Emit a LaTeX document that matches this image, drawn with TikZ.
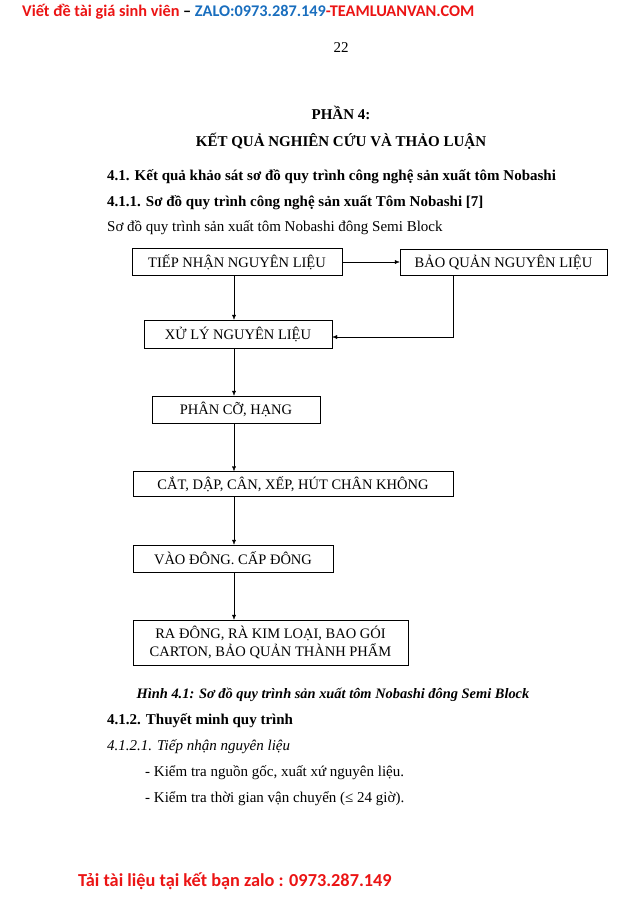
\documentclass[tikz,border=0pt]{standalone}
\usepackage{fontspec}
\setmainfont{Liberation Serif}
\newfontfamily\hdrfont{Carlito}
\usetikzlibrary{arrows.meta,positioning}
\definecolor{zalored}{RGB}{235,20,20}
\definecolor{zaloblue}{RGB}{25,110,190}
\begin{document}
\begin{tikzpicture}
    [
      x=1pt, y=-1pt,
      stepbox/.style={draw, thin, align=center, inner sep=0pt, font=\fontsize{14.5}{18}\selectfont},
      txt/.style={anchor=base west, inner sep=0pt, font=\fontsize{15}{18}\selectfont},
      ctxt/.style={anchor=base, inner sep=0pt, font=\fontsize{15}{18}\selectfont},
      ad/.style={anchor=base west, inner sep=0pt, font=\hdrfont\bfseries\fontsize{16.3}{19}\selectfont},
      post/.style={-{Latex[length=5pt,width=4pt]},thin},
    ]
    \useasboundingbox (0,0) rectangle (638,903);

    % page text
    \node (header) [ad] at (22,16) {\textcolor{zalored}{Viết đề tài giá sinh viên} – \textcolor{zaloblue}{ZALO:0973.287.149}\textcolor{zalored}{-TEAMLUANVAN.COM}};
    \node (pageno) [ctxt] at (341,52) {22};
    \node (part) [ctxt, font=\bfseries\fontsize{15}{18}\selectfont] at (341,119) {PHẦN 4:};
    \node (title) [ctxt, font=\bfseries\fontsize{15}{18}\selectfont] at (341,146) {KẾT QUẢ NGHIÊN CỨU VÀ THẢO LUẬN};
    \node (sec) [txt, font=\bfseries\fontsize{15}{18}\selectfont] at (107,180) {4.1. Kết quả khảo sát sơ đồ quy trình công nghệ sản xuất tôm Nobashi};
    \node (subsec) [txt, font=\bfseries\fontsize{15}{18}\selectfont] at (107,206) {4.1.1. Sơ đồ quy trình công nghệ sản xuất Tôm Nobashi [7]};
    \node (intro) [txt] at (107,231) {Sơ đồ quy trình sản xuất tôm Nobashi đông Semi Block};

    % flow chart
    \coordinate (spine) at (234,0);
    \coordinate (bend) at (453,337);
    \node (tiepnhan) [stepbox, minimum width=210pt, minimum height=27pt] at (237,262) {TIẾP NHẬN NGUYÊN LIỆU};
    \node (baoquan) [stepbox, minimum width=207pt, minimum height=26pt] at (503.5,262) {BẢO QUẢN NGUYÊN LIỆU};
    \node (xuly) [stepbox, minimum width=188pt, minimum height=28pt] at (238,334) {XỬ LÝ NGUYÊN LIỆU};
    \node (phanco) [stepbox, minimum width=168pt, minimum height=27pt] at (236,409.5) {PHÂN CỠ, HẠNG};
    \node (catdap) [stepbox, minimum width=320pt, minimum height=25pt] at (293,484) {CẮT, DẬP, CÂN, XẾP, HÚT CHÂN KHÔNG};
    \node (vaodong) [stepbox, minimum width=200pt, minimum height=27pt] at (233,558.5) {VÀO ĐÔNG. CẤP ĐÔNG};
    \node (radong) [stepbox, minimum width=275pt, minimum height=45pt] at (270.5,642.5) {RA ĐÔNG, RÀ KIM LOẠI, BAO GÓI\\CARTON, BẢO QUẢN THÀNH PHẨM};

    \path (tiepnhan) edge [post] (baoquan);
    \draw [post] (baoquan.south -| bend) -- (bend) -- (xuly.east |- bend);
    \draw [post] (tiepnhan.south -| spine) -- (xuly.north -| spine);
    \draw [post] (xuly.south -| spine) -- (phanco.north -| spine);
    \draw [post] (phanco.south -| spine) -- (catdap.north -| spine);
    \draw [post] (catdap.south -| spine) -- (vaodong.north -| spine);
    \draw [post] (vaodong.south -| spine) -- (radong.north -| spine);

    % text after chart
    \node (caption) [ctxt, font=\bfseries\itshape\fontsize{14.4}{17}\selectfont] at (333,698) {Hình 4.1: Sơ đồ quy trình sản xuất tôm Nobashi đông Semi Block};
    \node (subsec2) [txt, font=\bfseries\fontsize{15}{18}\selectfont] at (107,724) {4.1.2. Thuyết minh quy trình};
    \node (subsub) [txt, font=\itshape\fontsize{15}{18}\selectfont] at (107,750) {4.1.2.1. Tiếp nhận nguyên liệu};
    \node (item1) [txt] at (145,776) {- Kiểm tra nguồn gốc, xuất xứ nguyên liệu.};
    \node (item2) [txt] at (145,802) {- Kiểm tra thời gian vận chuyển (≤ 24 giờ).};
    \node (footer) [ad, font=\hdrfont\bfseries\fontsize{18.3}{21}\selectfont, text=zalored] at (78,886) {Tải tài liệu tại kết bạn zalo : 0973.287.149};
\end{tikzpicture}
\end{document}
